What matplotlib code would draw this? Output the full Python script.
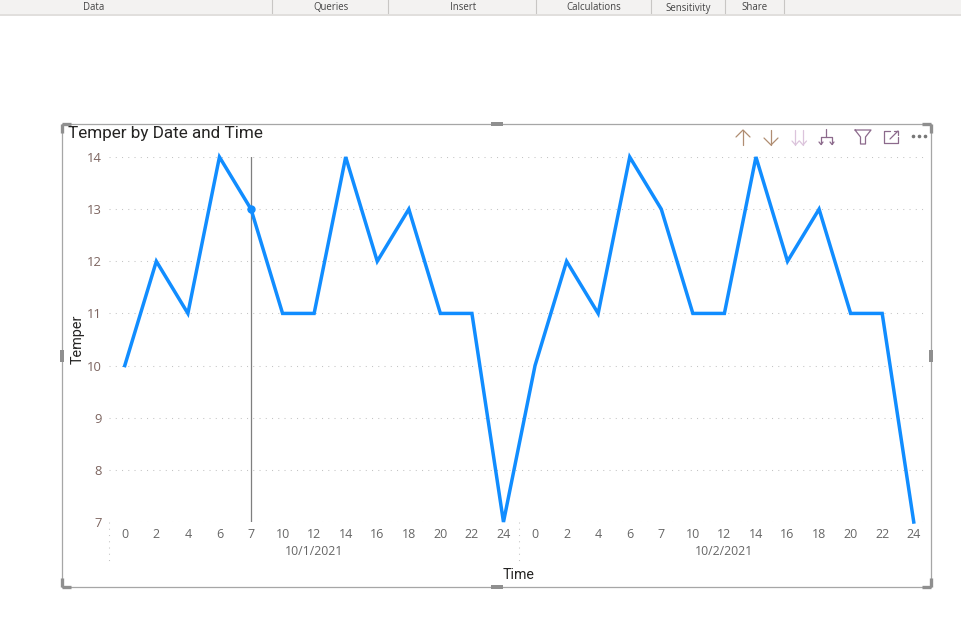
import numpy as np
import matplotlib
matplotlib.use('Agg')
import matplotlib.pyplot as plt
from matplotlib.patches import Rectangle

W, H = 962, 623

time_labels = ['0', '2', '4', '6', '7', '10', '12', '14', '16', '18', '20', '22', '24']
day1_temper = [10, 12, 11, 14, 13, 11, 11, 14, 12, 13, 11, 11, 7]
day2_temper = [10, 12, 11, 14, 13, 11, 11, 14, 12, 13, 11, 11, 7]
dates = ['10/1/2021', '10/2/2021']
date_centers = [6, 19]
y_ticks = [7, 8, 9, 10, 11, 12, 13, 14]
menu_labels = ['Data', 'Queries', 'Insert', 'Calculations', 'Sensitivity', 'Share']
menu_centers = [94, 331, 463, 594, 688, 755]
menu_seps = [272, 388, 536, 651.5, 725.5, 784.5]
hover_index = 4

fig = plt.figure(figsize=(W/100, H/100), dpi=100, facecolor='white')

# page overlay in pixel coordinates (ribbon, visual frame, icons)
pg = fig.add_axes([0, 0, 1, 1], zorder=0)
pg.set_xlim(0, W)
pg.set_ylim(H, 0)
pg.axis('off')

pg.add_patch(Rectangle((0, 0), W, 14, fc='#f3f2f1', ec='none'))
pg.add_patch(Rectangle((0, 14), W, 2, fc='#e1dfdd', ec='none'))
for name, cx in zip(menu_labels, menu_centers):
	pg.text(cx, 10.5, name, ha='center', va='baseline', fontsize=6.9, color='#444444', family='Open Sans')
for sx in menu_seps:
	pg.plot([sx, sx], [0, 13], color='#c8c6c4', lw=0.8)

# frame
left, right, top, bottom = 62.5, 931, 124, 587
pg.add_patch(Rectangle((left, top), right-left, bottom-top, fc='none', ec='#a6a6a6', lw=0.9))
grip = '#8f8f8f'
for cx, sx in ((left, 1), (right, -1)):
	for cy, sy in ((top, 1), (bottom, -1)):
		pg.plot([cx, cx+9*sx], [cy, cy], color=grip, lw=2.4, solid_capstyle='butt')
		pg.plot([cx, cx], [cy, cy+9*sy], color=grip, lw=2.4, solid_capstyle='butt')
for cy in (top, bottom):
	pg.add_patch(Rectangle((491, cy-2), 12, 4, fc=grip, ec='none'))
for cx in (left, right):
	pg.add_patch(Rectangle((cx-2, 350), 4, 12, fc=grip, ec='none'))

pg.text(68, 133.5, 'Temper by Date and Time', ha='left', va='center', fontsize=12.3, color='#252423', family='Roboto')
pg.text(77.5, 339, 'Temper', rotation=90, ha='center', va='center', fontsize=10.4, color='#252423', family='Roboto')
pg.text(519, 575, 'Time', ha='center', va='center', fontsize=10.2, color='#252423', family='Roboto')

# header icons
def seg(xs, ys, color, lw=0.9):
	pg.plot(xs, ys, color=color, lw=lw, solid_capstyle='round')

tan = '#b08d72'
seg([743, 743], [130, 145], tan)
seg([736, 743, 750], [137, 130, 137], tan)
seg([771, 771], [130, 145], tan)
seg([764, 771, 778], [138, 145, 138], tan)
pink = '#dcc4dc'
for ax_x in (795.5, 803):
	seg([ax_x, ax_x], [130, 145], pink)
	seg([ax_x-3.5, ax_x, ax_x+3.5], [141, 145, 141], pink)
purple = '#8c6a8c'
seg([826.5, 826.5], [129, 137], purple)
seg([821, 832, 832], [137, 137, 144], purple)
seg([821, 821], [137, 144], purple)
seg([819, 821, 823], [142, 144.5, 142], purple)
seg([830, 832, 834], [142, 144.5, 142], purple)
seg([855, 871, 865.5, 865.5, 860.5, 860.5, 855], [130, 130, 137, 144, 144, 137, 130], purple)
seg([890, 884, 884, 898, 898], [131, 131, 143, 143, 137], purple)
seg([890, 898], [139, 131], purple)
seg([894, 898, 898], [131, 131, 135], purple)
pg.plot([913, 919, 925], [135.5, 135.5, 135.5], ls='none', marker='o', ms=1.6, color='#777777')

# the chart itself
ax = fig.add_axes([109/W, 1-522/H, (927-109)/W, (522-157)/H], zorder=1)
ax.patch.set_alpha(0)
temper = day1_temper + day2_temper
xpos = np.arange(len(temper))
ax.plot(xpos, temper, color='#118dff', lw=2.5, solid_joinstyle='miter', clip_on=False, zorder=3)
ax.plot([hover_index], [temper[hover_index]], 'o', color='#118dff', ms=5, clip_on=False, zorder=4)
ax.plot([hover_index, hover_index], [7, 14], color='#7f7f7f', lw=0.9, zorder=2)

ax.set_xlim(-0.5, 25.42)
ax.set_ylim(7, 14)
for s in ax.spines.values():
	s.set_visible(False)
ax.set_yticks(y_ticks)
ax.set_yticklabels([str(v) for v in y_ticks])
ax.tick_params(axis='y', length=0, pad=5, labelsize=9.4, labelcolor='#7d6560')
ax.set_xticks(xpos)
ax.set_xticklabels(time_labels + time_labels)
ax.tick_params(axis='x', length=0, pad=4.5, labelsize=9, labelcolor='#666666')
for lab in ax.get_xticklabels() + ax.get_yticklabels():
	lab.set_family('Open Sans')
ax.yaxis.grid(True, color='#c4c4c4', lw=0.75, linestyle=(0, (1, 5)))
ax.set_axisbelow(True)

# date level of the axis
trans = ax.get_xaxis_transform()
for cx, d in zip(date_centers, dates):
	ax.text(cx, -0.081, d, transform=trans, ha='center', va='center', fontsize=8.8, color='#666666', family='Open Sans')
for sx in (-0.5, 12.5):
	ax.plot([sx, sx], [0, -0.107], transform=trans, color='#c4c4c4', lw=0.75, linestyle=(0, (1, 5)), clip_on=False)

fig.savefig('out.png', dpi=100)
